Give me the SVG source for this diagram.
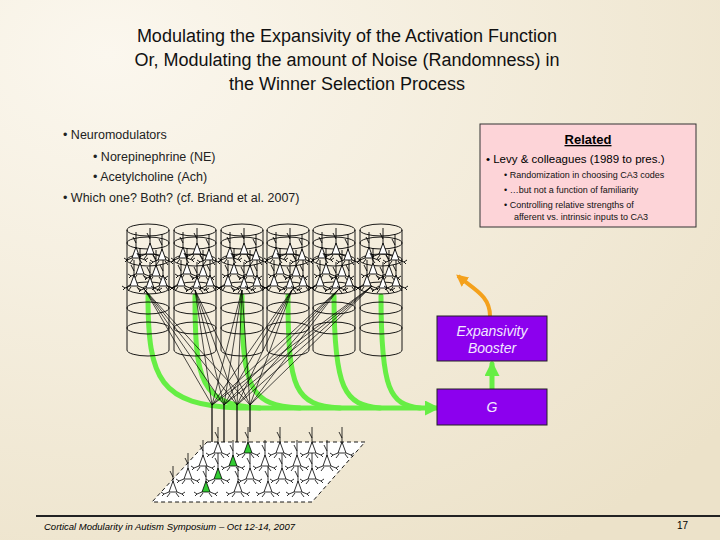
<svg xmlns="http://www.w3.org/2000/svg" xmlns:xlink="http://www.w3.org/1999/xlink" width="720" height="540" viewBox="0 0 720 540">
<defs>
<radialGradient id="bg" cx="0.15" cy="0.1" r="1.1"><stop offset="0" stop-color="#fbf7ee"/><stop offset="1" stop-color="#ece2c9"/></radialGradient>
<g id="n"><line x1="0" y1="-26" x2="0" y2="-6"/><line x1="0" y1="-15" x2="-3" y2="-21"/><path d="M-4,0 L0,-11 L4,0 Z"/><path d="M-4,0 L-9,2 M-3,1 L-6,5 M4,0 L9,2 M3,1 L6,5 M-9,2 L-12,0 M9,2 L12,0 M-9,2 L-11,4 M9,2 L11,4" fill="none"/></g>
<g id="col" fill="none"><path d="M-21,0 V120" fill="none"/><path d="M21,0 V120" fill="none"/>
<ellipse cx="0" cy="0" rx="21" ry="6" fill="none"/><ellipse cx="0" cy="13" rx="21" ry="6" fill="none"/><ellipse cx="0" cy="30" rx="21" ry="6" fill="none"/><ellipse cx="0" cy="58" rx="21" ry="6" fill="none"/><ellipse cx="0" cy="78" rx="21" ry="6" fill="none"/><ellipse cx="0" cy="98" rx="21" ry="6" fill="none"/><path d="M-21,120 A21,6 0 0 0 21,120" fill="none"/>
<g fill="#fff"><use xlink:href="#n" x="-12" y="28"/><use xlink:href="#n" x="2" y="24"/><use xlink:href="#n" x="14" y="30"/><use xlink:href="#n" x="-8" y="44"/><use xlink:href="#n" x="8" y="46"/><use xlink:href="#n" x="-14" y="56"/><use xlink:href="#n" x="2" y="58"/><use xlink:href="#n" x="15" y="56"/></g></g>
<marker id="ga" viewBox="0 0 10 10" refX="8" refY="5" markerWidth="3" markerHeight="3" orient="auto"><path d="M0,0 L10,5 L0,10 Z" fill="#66ee44"/></marker>
<marker id="oa" viewBox="0 0 10 10" refX="8" refY="5" markerWidth="3" markerHeight="3" orient="auto"><path d="M0,0 L10,5 L0,10 Z" fill="#f4a11c"/></marker>
</defs>
<style>
text{font-family:"Liberation Sans",Arial,sans-serif}
#cols use{stroke:#000;stroke-width:0.9}
#plane use{stroke:#000;stroke-width:0.8;fill:#fff}
.g{fill:none;stroke:#66ee44;stroke-width:5;stroke-linecap:round}
.box{fill:#8c00ee;stroke:#222;stroke-width:1}
.bt{fill:#f3e8ff;font-size:14px;font-style:italic;text-anchor:middle}
.t{font-size:12.5px;fill:#222}
.s{font-size:9px;fill:#111}
</style>
<rect width="720" height="540" fill="url(#bg)"/>
<g id="title" font-size="18" text-anchor="middle" fill="#111">
<text x="347" y="42">Modulating the Expansivity of the Activation Function</text>
<text x="347" y="66">Or, Modulating the amount of Noise (Randomness) in</text>
<text x="347" y="90">the Winner Selection Process</text></g>
<g id="bullets">
<text class="t" x="63" y="139">•  Neuromodulators</text>
<text class="t" x="93" y="161">•  Norepinephrine (NE)</text>
<text class="t" x="93" y="181">•  Acetylcholine (Ach)</text>
<text class="t" x="63" y="202">•  Which one? Both? (cf. Briand et al. 2007)</text></g>
<g id="related">
<rect x="480" y="124" width="216" height="103" fill="#fdd4d8" stroke="#333" stroke-width="1"/>
<text x="588" y="144" font-size="13" font-weight="bold" text-anchor="middle" text-decoration="underline">Related</text>
<text x="486" y="163" font-size="11.5">•  Levy &amp; colleagues (1989 to pres.)</text>
<text class="s" x="504" y="178">•  Randomization in choosing CA3 codes</text>
<text class="s" x="504" y="193">•  …but not a function of familiarity</text>
<text class="s" x="504" y="208">•  Controlling relative strengths of</text>
<text class="s" x="514" y="220">afferent vs. intrinsic inputs to CA3</text></g>
<g id="connectors">
<g class="g">
<path d="M148,296 C148,380 160,405 240,408 L437,408" marker-end="url(#ga)"/>
<path d="M195,296 C195,380 200,405 260,408"/>
<path d="M242,296 C242,390 250,405 300,408"/>
<path d="M288,296 C288,390 295,405 340,408"/>
<path d="M334,296 C334,390 345,405 380,408"/>
<path d="M381,296 C381,390 390,405 420,408"/>
<path d="M492,389 L492,364" marker-end="url(#ga)"/>
</g>
<path d="M490,316 C490,296 475,290 458,276" fill="none" stroke="#f4a11c" stroke-width="4" marker-end="url(#oa)"/>
<g stroke="#000" stroke-width="0.7" fill="none" id="wires">
<path d="M145,290 L212,405 M145,290 L224,405 M145,290 L237,405 M145,290 L250,405 M195,290 L212,405 M195,290 L224,405 M195,290 L237,405 M195,290 L250,405 M242,290 L212,405 M242,290 L224,405 M242,290 L237,405 M242,290 L250,405 M292,290 L212,405 M292,290 L224,405 M292,290 L237,405 M292,290 L250,405 M338,290 L212,405 M338,290 L224,405 M338,290 L237,405 M338,290 L250,405 M372,286 L212,405 M372,286 L224,405 M372,286 L237,405 M372,286 L250,405"/>
<path d="M212,405 V470 M224,405 V458 M237,405 V445 M250,405 V432" stroke-width="1.2"/>
</g></g>
<g id="cols">
<use xlink:href="#col" x="148" y="230"/><use xlink:href="#col" x="195" y="230"/><use xlink:href="#col" x="242" y="230"/><use xlink:href="#col" x="288" y="230"/><use xlink:href="#col" x="334" y="230"/><use xlink:href="#col" x="381" y="230"/></g>
<g id="plane">
<path d="M207,442 H365 L312,502 H152 Z" fill="#fff" stroke="#000" stroke-width="0.9" stroke-dasharray="4,3"/>
<use xlink:href="#n" x="218" y="453"/><use xlink:href="#n" x="248" y="453" style="fill:#33cc33"/><use xlink:href="#n" x="280" y="453"/><use xlink:href="#n" x="312" y="453"/><use xlink:href="#n" x="342" y="453"/>
<use xlink:href="#n" x="203" y="466"/><use xlink:href="#n" x="233" y="466" style="fill:#33cc33"/><use xlink:href="#n" x="265" y="466"/><use xlink:href="#n" x="297" y="466"/><use xlink:href="#n" x="327" y="466"/>
<use xlink:href="#n" x="188" y="479"/><use xlink:href="#n" x="218" y="479" style="fill:#33cc33"/><use xlink:href="#n" x="250" y="479"/><use xlink:href="#n" x="282" y="479"/><use xlink:href="#n" x="312" y="479"/>
<use xlink:href="#n" x="173" y="492"/><use xlink:href="#n" x="206" y="492" style="fill:#33cc33"/><use xlink:href="#n" x="238" y="492"/><use xlink:href="#n" x="268" y="492"/><use xlink:href="#n" x="298" y="492"/></g>
<g id="booster"><rect class="box" x="437" y="316" width="110" height="45"/><text class="bt" x="492" y="336">Expansivity</text><text class="bt" x="492" y="353">Booster</text></g>
<g id="G"><rect class="box" x="437" y="389" width="110" height="36"/><text class="bt" x="492" y="412">G</text></g>
<g id="footer"><line x1="36" y1="516" x2="720" y2="516" stroke="#222" stroke-width="2"/>
<text x="44" y="530" font-size="9.5" font-style="italic">Cortical Modularity in Autism  Symposium  – Oct 12-14, 2007</text>
<text x="677" y="529" font-size="10">17</text></g>
</svg>
